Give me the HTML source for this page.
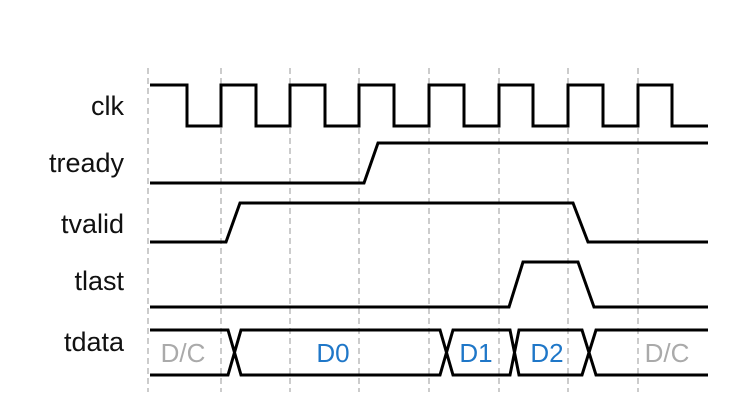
<!DOCTYPE html>
<html><head><style>body{margin:0;background:#fff}svg{display:block}</style></head><body>
<svg width="750" height="418" viewBox="0 0 750 418" xmlns="http://www.w3.org/2000/svg">
<g stroke="#bbb" stroke-width="1.5" stroke-dasharray="6,4">
<line x1="148" y1="68" x2="148" y2="392"/><line x1="221" y1="68" x2="221" y2="392"/>
<line x1="290" y1="68" x2="290" y2="392"/><line x1="359" y1="68" x2="359" y2="392"/>
<line x1="429" y1="68" x2="429" y2="392"/><line x1="499" y1="68" x2="499" y2="392"/>
<line x1="568" y1="68" x2="568" y2="392"/><line x1="638" y1="68" x2="638" y2="392"/>
</g>
<g fill="none" stroke="#000" stroke-width="3">
<polyline points="150,85 187,85 187,126 221,126 221,85 256,85 256,126 290,126 290,85 325,85 325,126 359,126 359,85 394,85 394,126 429,126 429,85 464,85 464,126 499,126 499,85 533,85 533,126 568,126 568,85 603,85 603,126 638,126 638,85 672,85 672,126 708,126"/>
<polyline points="150,183 364,183 378,143 708,143"/>
<polyline points="150,242 226,242 240,203 573,203 588,242 708,242"/>
<polyline points="150,307 509,307 523,262 578,262 594,307 708,307"/>
<polyline points="150,330 228,330 241,375 440,375 453,330 510,330 519,375 582,375 596,330 708,330"/>
<polyline points="150,375 228,375 241,330 440,330 453,375 510,375 519,330 582,330 596,375 708,375"/>
</g>
<g font-family="Liberation Sans, sans-serif" font-size="27" fill="#111" text-anchor="end">
<text x="124" y="115">clk</text><text x="124" y="172">tready</text><text x="124" y="233">tvalid</text>
<text x="124" y="290">tlast</text><text x="124" y="351">tdata</text>
</g>
<g font-family="Liberation Sans, sans-serif" font-size="26" text-anchor="middle">
<text x="183" y="362" fill="#aaa">D/C</text><text x="333" y="362" fill="#1f77c8">D0</text>
<text x="476" y="362" fill="#1f77c8">D1</text><text x="547" y="362" fill="#1f77c8">D2</text>
<text x="667" y="362" fill="#aaa">D/C</text>
</g>
</svg>
</body></html>
